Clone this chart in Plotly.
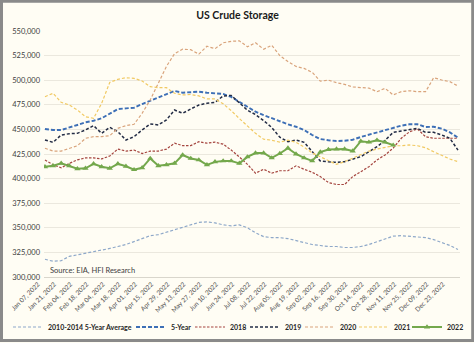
import plotly.graph_objects as go

weeks = [
    "Jan 07, 2022", "Jan 14, 2022", "Jan 21, 2022", "Jan 28, 2022",
    "Feb 04, 2022", "Feb 11, 2022", "Feb 18, 2022", "Feb 25, 2022",
    "Mar 04, 2022", "Mar 11, 2022", "Mar 18, 2022", "Mar 25, 2022",
    "Apr 01, 2022", "Apr 08, 2022", "Apr 15, 2022", "Apr 22, 2022", "Apr 29, 2022",
    "May 06, 2022", "May 13, 2022", "May 20, 2022", "May 27, 2022",
    "Jun 03, 2022", "Jun 10, 2022", "Jun 17, 2022", "Jun 24, 2022",
    "Jul 01, 2022", "Jul 08, 2022", "Jul 15, 2022", "Jul 22, 2022", "Jul 29, 2022",
    "Aug 05, 2022", "Aug 12, 2022", "Aug 19, 2022", "Aug 26, 2022",
    "Sep 02, 2022", "Sep 09, 2022", "Sep 16, 2022", "Sep 23, 2022", "Sep 30, 2022",
    "Oct 07, 2022", "Oct 14, 2022", "Oct 21, 2022", "Oct 28, 2022",
    "Nov 04, 2022", "Nov 11, 2022", "Nov 18, 2022", "Nov 25, 2022",
    "Dec 02, 2022", "Dec 09, 2022", "Dec 16, 2022", "Dec 23, 2022", "Dec 30, 2022",
]

tick_labels = [
    "Jan 07, 2022", "Jan 21, 2022", "Feb 04, 2022", "Feb 18, 2022", "Mar 04, 2022",
    "Mar 18, 2022", "Apr 01, 2022", "Apr 15, 2022", "Apr 29, 2022", "May 13, 2022",
    "May 27, 2022", "Jun 10, 2022", "Jun 24, 2022", "Jul 08, 2022", "Jul 22, 2022",
    "Aug 05, 2022", "Aug 19, 2022", "Sep 02, 2022", "Sep 16, 2022", "Sep 30, 2022",
    "Oct 14, 2022", "Oct 28, 2022", "Nov 11, 2022", "Nov 25, 2022", "Dec 09, 2022",
    "Dec 23, 2022",
]

avg_2010_2014 = [
    318000, 316000, 316500, 321000, 322500, 324000, 325500, 327000, 329000, 331000,
    333000, 336000, 339000, 342000, 343000, 345500, 348500, 351000, 353500, 355500,
    356000, 355000, 353000, 352000, 353000, 350000, 345000, 341000, 340000, 340000,
    339000, 337000, 335000, 333000, 332000, 331000, 331000, 330000, 330000, 331000,
    333000, 336000, 339000, 341500, 342000, 341500, 341000, 340000, 338000, 335000,
    332000, 328000,
]

five_year = [
    450400, 449400, 449400, 451700, 454500, 457200, 458800, 461300, 466400, 470700,
    471400, 472000, 475800, 478900, 482200, 485700, 489000, 487300, 488000, 488300,
    487300, 486700, 486000, 483000, 478000, 473000, 468000, 464500, 461500, 457800,
    455200, 452700, 449400, 444300, 440200, 439000, 438200, 438500, 439500, 442300,
    444600, 447000, 449000, 451000, 453800, 455200, 455200, 452400, 452700, 450700,
    447000, 441600,
]

y2018 = [
    419000, 414000, 411000, 415500, 419000, 421000, 421000, 420000, 423000, 430000,
    428000, 429000, 425500, 428000, 428000, 430000, 436000, 433500, 433500, 437500,
    436000, 437000, 435000, 429000, 422000, 414500, 405500, 409500, 405500, 408000,
    408000, 413000, 409500, 406500, 402000, 396000, 394000, 394000, 402000, 407000,
    412000, 419000, 424000, 431000, 441000, 447500, 450500, 442500, 441000, 441000,
    441000, 441000,
]

y2019 = [
    439200, 436900, 444300, 445600, 446000, 449400, 453800, 446000, 452100, 447700,
    439200, 442600, 449400, 455500, 454500, 459600, 469700, 466400, 470700, 474800,
    476500, 477500, 484000, 484500, 477000, 469500, 465000, 459000, 452000, 442000,
    437500, 439200, 436900, 427300, 417900, 417000, 416500, 417200, 419600, 422300,
    427300, 432400, 438900, 447000, 448400, 449400, 451000, 447000, 447000, 444300,
    440900, 429000,
]

y2020 = [
    430800, 428000, 428000, 430800, 433400, 440900, 442600, 442600, 443600, 451100,
    453800, 455200, 466400, 480000, 497000, 514000, 527000, 531500, 531000, 526500,
    534500, 532000, 538000, 539500, 540000, 534000, 538000, 531500, 535500, 525000,
    519000, 514000, 512000, 508000, 499000, 500000, 497500, 495800, 493100, 492700,
    492000, 488300, 491700, 485000, 488300, 489300, 488300, 488300, 502500, 500200,
    498500, 494100,
]

y2021 = [
    483200, 486700, 477500, 474800, 469700, 462900, 461300, 476500, 497800, 500900,
    502500, 501900, 499200, 493400, 492400, 492400, 486700, 485000, 485500, 484000,
    481000, 481000, 476000, 469000, 461000, 453000, 446000, 440000, 439000, 437000,
    439000, 437000, 432000, 426000, 422000, 418000, 414500, 417200, 420600, 424000,
    428000, 430000, 431400, 433400, 433400, 434200, 433400, 431400, 427300, 423300,
    419900, 417200,
]

y2022 = [
    412000, 413000, 415500, 413000, 410000, 410500, 415000, 412000, 410500, 415000,
    412500, 409000, 411000, 420500, 413000, 414000, 415500, 424000, 420500, 419000,
    414000, 417000, 418000, 418000, 415500, 422000, 426000, 426000, 421000, 425500,
    431000, 425000, 421000, 418000, 427000, 429500, 430000, 430000, 428000, 438000,
    437000, 439000, 437000, 434000,
]

series_names = ["2010-2014 5-Year Average", "5-Year", "2018", "2019", "2020", "2021", "2022"]
series_values = [avg_2010_2014, five_year, y2018, y2019, y2020, y2021, y2022]
series_colors = ["#8ea8c9", "#3d6fb6", "#a5453f", "#232c45", "#d9a47c", "#f1c962", "#74a84c"]
series_widths = [1.2, 1.9, 1.2, 1.5, 1.2, 1.2, 2.0]
series_dash = ["3px,2px", "4px,2px", "2.5px,1.5px", "3px,2px", "3px,2px", "3px,2px", "solid"]

# legend text start positions (px) -- layout only
legend_text_px = [48, 171, 230, 285, 340, 394, 447]

FONT = "Lato"
L, R, T, B = 44, 14, 31, 66
W, H = 474, 343
PW, PH = W - L - R, H - T - B

fig = go.Figure()
for i, (name, vals, col, lw, dash) in enumerate(
        zip(series_names, series_values, series_colors, series_widths, series_dash)):
    leg = "legend" if i == 0 else f"legend{i+1}"
    kw = dict(mode="lines")
    if name == "2022":
        kw = dict(mode="lines+markers",
                  marker=dict(symbol="triangle-up", size=5.5, color=col))
    fig.add_trace(go.Scatter(
        x=weeks[:len(vals)], y=vals, name=name, legend=leg,
        line=dict(color=col, width=lw, dash=dash), **kw))

legend_layout = {}
for i, tx in enumerate(legend_text_px):
    key = "legend" if i == 0 else f"legend{i+1}"
    legend_layout[key] = dict(
        orientation="h", xref="container", yref="container",
        x=(tx - 40) / W, xanchor="left",
        y=1 - 327 / H, yanchor="middle",
        bgcolor="rgba(0,0,0,0)", borderwidth=0,
        font=dict(family=FONT, size=7, color="#262626", weight="bold"),
    )

fig.update_layout(
    width=W, height=H,
    margin=dict(l=L, r=R, t=T, b=B, autoexpand=False),
    paper_bgcolor="#fffdf4", plot_bgcolor="#fffdf4",
    font=dict(family=FONT, color="#404040"),
    title=dict(text="US Crude Storage", x=237.5 / W, xanchor="center",
               y=1 - 15 / H, yanchor="middle", yref="container",
               font=dict(family=FONT, size=10.5, color="#1a1a1a", weight="bold")),
    showlegend=True,
    **legend_layout,
    xaxis=dict(type="category", categoryorder="array", categoryarray=weeks,
               range=[-0.12, 51.25], tickmode="array", tickvals=tick_labels,
               ticktext=tick_labels, tickangle=-45, ticklabelshift=-7,
               tickfont=dict(family=FONT, size=6.5, color="#505050"),
               showgrid=False, showline=True, linecolor="#d9d6cc", linewidth=1,
               ticks="", zeroline=False, automargin=False),
    yaxis=dict(range=[300000, 550000], dtick=25000, tickformat=",",
               tickfont=dict(family=FONT, size=7.5, color="#404040"),
               gridcolor="#ebe8de", gridwidth=1, zeroline=False, ticks="",
               showline=False, ticklabelstandoff=3, automargin=False),
    annotations=[dict(text="Source: EIA, HFI Research", xref="paper", yref="paper",
                      x=(48 - L) / PW, y=(T + PH - 270) / PH, xanchor="left",
                      yanchor="middle", showarrow=False,
                      font=dict(family=FONT, size=7.5, color="#404040"))],
    shapes=[dict(type="rect", xref="paper", yref="paper",
                 x0=(1.5 - L) / PW, x1=(472.7 - L) / PW,
                 y0=(T + PH - 340.5) / PH, y1=(T + PH - 1.3) / PH,
                 line=dict(color="#8a8a8a", width=3), fillcolor="rgba(0,0,0,0)")],
)

fig.write_html("out.html")
